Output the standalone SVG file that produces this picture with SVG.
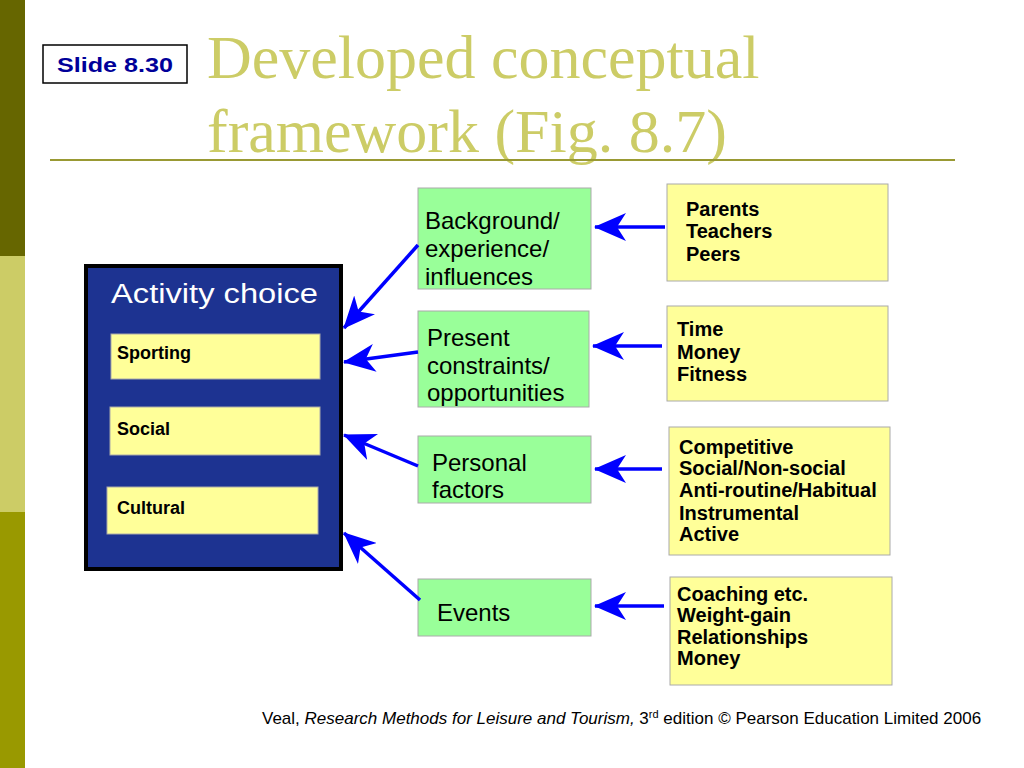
<svg xmlns="http://www.w3.org/2000/svg" width="1024" height="768" viewBox="0 0 1024 768">
<style>
.s{font-family:"Liberation Sans",Arial,sans-serif}
.b{font-family:"Liberation Sans",Arial,sans-serif;font-weight:bold;fill:#000}
.g{font-family:"Liberation Sans",Arial,sans-serif;font-size:24px;fill:#000}
.gr{fill:#99ff99;stroke:#aaaaaa;stroke-width:1}
.ye{fill:#ffff99;stroke:#aaaaaa;stroke-width:1}
.c{stroke:#0000ff;stroke-width:3.5;fill:none;marker-end:url(#a)}
</style>
<defs>
<marker id="a" viewBox="0 0 32 28" refX="31" refY="14" markerWidth="32" markerHeight="28" markerUnits="userSpaceOnUse" orient="auto">
<path d="M32,14 L0,0 L9,14 L0,28 Z" fill="#0000ff"/>
</marker>
</defs>
<rect width="1024" height="768" fill="#fff"/>
<rect x="0" y="0" width="25" height="256" fill="#666600"/>
<rect x="0" y="256" width="25" height="256" fill="#cccc66"/>
<rect x="0" y="512" width="25" height="256" fill="#999900"/>
<g id="slide"><rect x="43" y="45" width="144" height="38" fill="#fff" stroke="#000" stroke-width="1.5"/>
<text x="57" y="72" class="s" font-size="21" font-weight="bold" fill="#000099" textLength="116" lengthAdjust="spacingAndGlyphs">Slide 8.30</text></g>
<g id="title" font-family="'Liberation Serif','Times New Roman',serif" font-size="62" fill="#cccc66">
<text x="207" y="78">Developed conceptual</text>
<text x="207" y="152">framework (Fig. 8.7)</text></g>
<line x1="50" y1="160" x2="955" y2="160" stroke="#999933" stroke-width="2"/>
<g id="activity"><rect x="86" y="266" width="255" height="303" fill="#1d3391" stroke="#000" stroke-width="4"/>
<text x="111" y="303" class="s" font-size="27" fill="#fff" textLength="207" lengthAdjust="spacingAndGlyphs">Activity choice</text></g>
<g id="sporting"><rect x="111" y="334" width="209" height="45" class="ye"/><text x="117" y="359" class="b" font-size="18">Sporting</text></g>
<g id="social"><rect x="110" y="407" width="210" height="48" class="ye"/><text x="117" y="435" class="b" font-size="18">Social</text></g>
<g id="cultural"><rect x="107" y="487" width="211" height="47" class="ye"/><text x="117" y="514" class="b" font-size="18">Cultural</text></g>
<g id="background"><rect x="418" y="188" width="173" height="101" class="gr"/><text class="g"><tspan x="425" y="229">Background/</tspan><tspan x="425" y="257">experience/</tspan><tspan x="425" y="285">influences</tspan></text></g>
<g id="present"><rect x="418" y="311" width="171" height="96" class="gr"/><text class="g"><tspan x="427" y="346">Present</tspan><tspan x="427" y="374">constraints/</tspan><tspan x="427" y="401">opportunities</tspan></text></g>
<g id="personal"><rect x="418" y="436" width="173" height="67" class="gr"/><text class="g"><tspan x="432" y="471">Personal</tspan><tspan x="432" y="498">factors</tspan></text></g>
<g id="events"><rect x="418" y="579" width="173" height="57" class="gr"/><text x="437" y="621" class="g">Events</text></g>
<g id="r1"><rect x="667" y="184" width="221" height="97" class="ye"/><text class="b" font-size="20"><tspan x="686" y="216">Parents</tspan><tspan x="686" y="238">Teachers</tspan><tspan x="686" y="261">Peers</tspan></text></g>
<g id="r2"><rect x="667" y="306" width="221" height="95" class="ye"/><text class="b" font-size="20"><tspan x="677" y="336">Time</tspan><tspan x="677" y="359">Money</tspan><tspan x="677" y="381">Fitness</tspan></text></g>
<g id="r3"><rect x="669" y="427" width="221" height="128" class="ye"/><text class="b" font-size="20"><tspan x="679" y="454">Competitive</tspan><tspan x="679" y="475">Social/Non-social</tspan><tspan x="679" y="497">Anti-routine/Habitual</tspan><tspan x="679" y="520">Instrumental</tspan><tspan x="679" y="541">Active</tspan></text></g>
<g id="r4"><rect x="670" y="577" width="222" height="108" class="ye"/><text class="b" font-size="20"><tspan x="677" y="601">Coaching etc.</tspan><tspan x="677" y="622">Weight-gain</tspan><tspan x="677" y="644">Relationships</tspan><tspan x="677" y="665">Money</tspan></text></g>
<g id="connectors">
<line x1="665" y1="227" x2="595" y2="227" class="c"/>
<line x1="662" y1="346" x2="593" y2="346" class="c"/>
<line x1="662" y1="469" x2="595" y2="469" class="c"/>
<line x1="664" y1="606" x2="595" y2="606" class="c"/>
<line x1="418" y1="245" x2="344" y2="328" class="c"/>
<line x1="418" y1="352" x2="344" y2="362" class="c"/>
<line x1="418" y1="466" x2="344" y2="435" class="c"/>
<line x1="420" y1="600" x2="344" y2="533" class="c"/>
</g>
<text x="262" y="724" class="s" font-size="17" fill="#000">Veal, <tspan font-style="italic">Research Methods for Leisure and Tourism,</tspan> 3<tspan font-size="11" dy="-6">rd</tspan><tspan dy="6"> edition © Pearson Education Limited 2006</tspan></text>
</svg>
